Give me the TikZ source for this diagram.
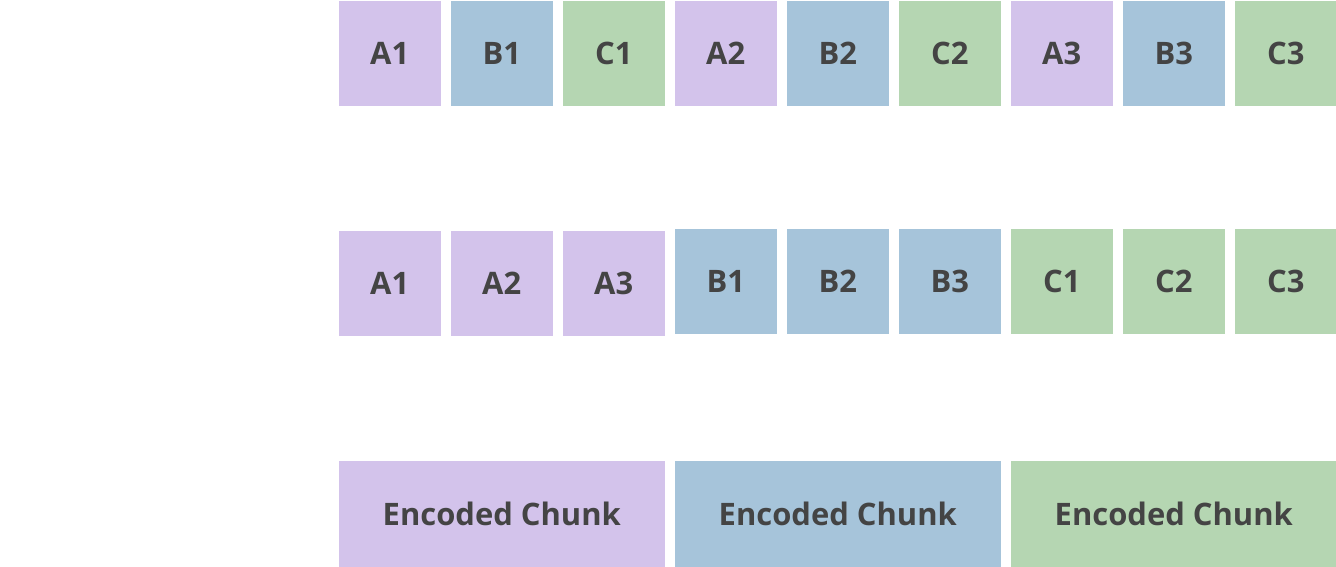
\documentclass[tikz,border=0pt]{standalone}
\usepackage{fontspec}
\setmainfont{Open Sans}
\usetikzlibrary{positioning}
\definecolor{chunkA}{HTML}{D3C3EB}
\definecolor{chunkB}{HTML}{A6C4DA}
\definecolor{chunkC}{HTML}{B5D6B2}
\definecolor{label}{HTML}{444444}
\begin{document}
\begin{tikzpicture}[
    x=0.01cm, y=-0.01cm,
    cell/.style={rectangle, inner sep=0pt, anchor=north west, minimum width=1.02cm, minimum height=1.05cm, text=label, font=\fontsize{8.8}{10}\selectfont\bfseries},
    chunk/.style={cell, minimum width=3.26cm, minimum height=1.06cm}
  ]
    \useasboundingbox (0,0) rectangle (1336,566);
    % interleaved row
    \foreach \n in {1,2,3} {
      \node[cell, fill=chunkA] (a\n) at ({338+336*(\n-1)},0) {A\n};
      \node[cell, fill=chunkB] (b\n) at ({450+336*(\n-1)},0) {B\n};
      \node[cell, fill=chunkC] (c\n) at ({562+336*(\n-1)},0) {C\n};
    }
    % grouped row
    \foreach \n in {1,2,3} {
      \node[cell, fill=chunkA] (ga\n) at ({338+112*(\n-1)},230) {A\n};
      \node[cell, fill=chunkB] (gb\n) at ({674+112*(\n-1)},228) {B\n};
      \node[cell, fill=chunkC] (gc\n) at ({1010+112*(\n-1)},228) {C\n};
    }
    % encoded row
    \node[chunk, fill=chunkA] (encA) at (338,460) {Encoded Chunk};
    \node[chunk, fill=chunkB] (encB) at (674,460) {Encoded Chunk};
    \node[chunk, fill=chunkC] (encC) at (1010,460) {Encoded Chunk};
\end{tikzpicture}
\end{document}
